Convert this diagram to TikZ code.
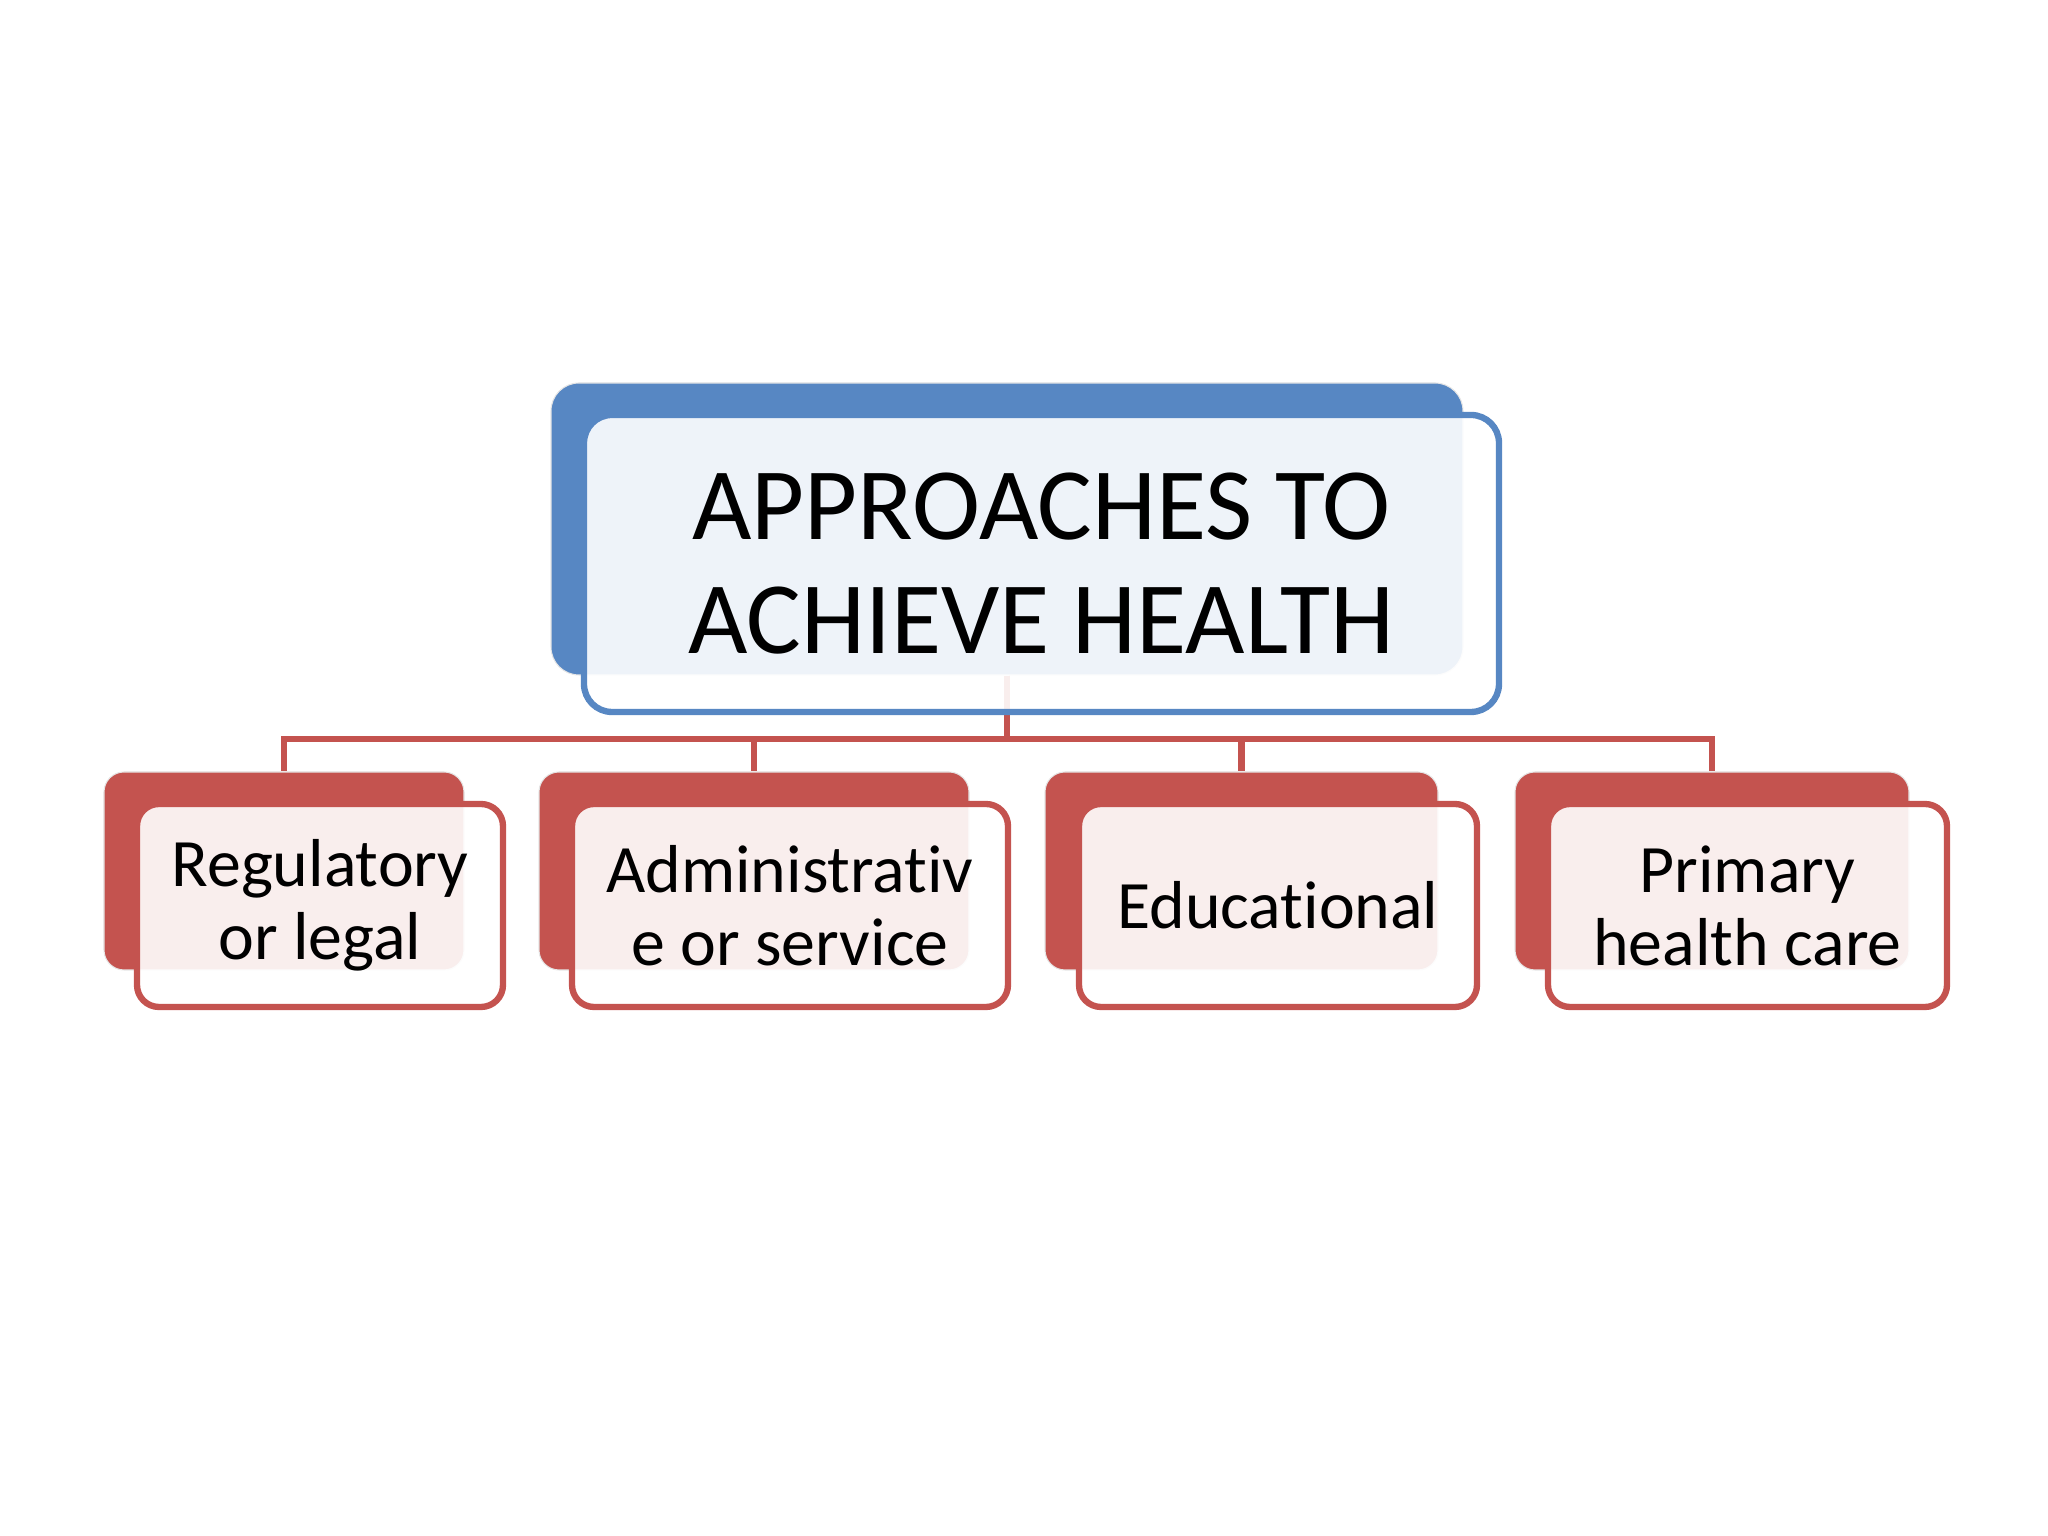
\documentclass[tikz,border=0pt]{standalone}
\usepackage{fontspec}
\setmainfont{Carlito}[Ligatures=NoCommon]
\definecolor{topblue}{HTML}{5787C3}
\definecolor{boxred}{HTML}{C4534F}
\tikzset{
  backbox/.style={rectangle, rounded corners=#1, inner sep=0pt, draw=black!10, line width=0.3pt},
  frontbox/.style={rectangle, rounded corners=0.22cm, inner sep=0pt, fill=white,
    fill opacity=0.9, text opacity=1, line width=1.8pt, align=center},
  conn/.style={draw=boxred, line width=1.9pt}
}
\begin{document}
\begin{tikzpicture}
\useasboundingbox (0,0) rectangle (20.48,15.36);

\node[backbox=0.28cm, fill=topblue, minimum width=9.12cm, minimum height=2.92cm] (hb) at (10.07,10.07) {};

\foreach \x/\w/\n in {2.84/3.60/1, 7.54/4.30/2, 12.415/3.93/3, 17.12/3.94/4}
  \node[backbox=0.2cm, fill=boxred, minimum width=\w cm, minimum height=1.98cm] (c\n b) at (\x,6.65) {};

\coordinate (bus) at (10.07,7.97);
\foreach \n in {1,2,3,4}
  \draw[conn] (hb.south) -- (bus) -| (c\n b.north);

\node[frontbox, draw=topblue, rounded corners=0.28cm, minimum width=9.15cm, minimum height=2.97cm,
  font=\fontsize{29.2}{32.3}\selectfont] (head) at (10.415,9.725) {APPROACHES TO\\ACHIEVE HEALTH};

\foreach \x/\w/\txt/\n in {3.20/3.66/{Regulatory\\or legal}/1, 7.90/4.36/{Administrativ\\e or service}/2,
  12.78/3.98/{Educational}/3, 17.475/3.99/{Primary\\health care}/4}
  \node[frontbox, draw=boxred, minimum width=\w cm, minimum height=2.03cm,
    font=\fontsize{19.3}{20.8}\selectfont] (c\n) at (\x,6.305) {\txt};

\end{tikzpicture}
\end{document}
